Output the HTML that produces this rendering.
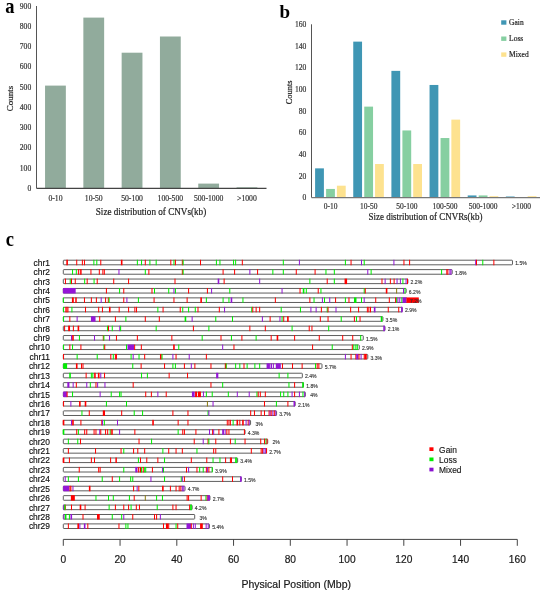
<!DOCTYPE html>
<html><head><meta charset="utf-8"><title>CNV figure</title>
<style>html,body{margin:0;padding:0;background:#fff;} svg{display:block;will-change:transform;filter:blur(0.3px);}</style></head>
<body><svg width="550" height="592" viewBox="0 0 550 592">
<rect width="550" height="592" fill="#fff"/>
<g id="pa">
<rect x="45.05" y="85.60" width="20.8" height="102.70" fill="#91ab9c"/>
<rect x="83.35" y="17.60" width="20.8" height="170.70" fill="#91ab9c"/>
<rect x="121.65" y="52.70" width="20.8" height="135.60" fill="#91ab9c"/>
<rect x="159.95" y="36.50" width="20.8" height="151.80" fill="#91ab9c"/>
<rect x="198.25" y="183.60" width="20.8" height="4.70" fill="#91ab9c"/>
<rect x="236.55" y="187.30" width="20.8" height="1.00" fill="#91ab9c"/>
<line x1="36.5" y1="6" x2="36.5" y2="188.3" stroke="#555" stroke-width="1"/>
<line x1="36.5" y1="188.3" x2="266.5" y2="188.3" stroke="#444" stroke-width="1.2"/>
<text transform="translate(31.20,191.00) scale(1,1.1)" font-family="'Liberation Serif', serif" font-size="7.6" text-anchor="end" fill="#333" font-weight="normal" stroke="#333" stroke-width="0.18">0</text>
<text transform="translate(31.20,170.74) scale(1,1.1)" font-family="'Liberation Serif', serif" font-size="7.6" text-anchor="end" fill="#333" font-weight="normal" stroke="#333" stroke-width="0.18">100</text>
<text transform="translate(31.20,150.48) scale(1,1.1)" font-family="'Liberation Serif', serif" font-size="7.6" text-anchor="end" fill="#333" font-weight="normal" stroke="#333" stroke-width="0.18">200</text>
<text transform="translate(31.20,130.22) scale(1,1.1)" font-family="'Liberation Serif', serif" font-size="7.6" text-anchor="end" fill="#333" font-weight="normal" stroke="#333" stroke-width="0.18">300</text>
<text transform="translate(31.20,109.96) scale(1,1.1)" font-family="'Liberation Serif', serif" font-size="7.6" text-anchor="end" fill="#333" font-weight="normal" stroke="#333" stroke-width="0.18">400</text>
<text transform="translate(31.20,89.70) scale(1,1.1)" font-family="'Liberation Serif', serif" font-size="7.6" text-anchor="end" fill="#333" font-weight="normal" stroke="#333" stroke-width="0.18">500</text>
<text transform="translate(31.20,69.44) scale(1,1.1)" font-family="'Liberation Serif', serif" font-size="7.6" text-anchor="end" fill="#333" font-weight="normal" stroke="#333" stroke-width="0.18">600</text>
<text transform="translate(31.20,49.18) scale(1,1.1)" font-family="'Liberation Serif', serif" font-size="7.6" text-anchor="end" fill="#333" font-weight="normal" stroke="#333" stroke-width="0.18">700</text>
<text transform="translate(31.20,28.92) scale(1,1.1)" font-family="'Liberation Serif', serif" font-size="7.6" text-anchor="end" fill="#333" font-weight="normal" stroke="#333" stroke-width="0.18">800</text>
<text transform="translate(31.20,8.66) scale(1,1.1)" font-family="'Liberation Serif', serif" font-size="7.6" text-anchor="end" fill="#333" font-weight="normal" stroke="#333" stroke-width="0.18">900</text>
<text transform="translate(55.45,201.00) scale(1,1.1)" font-family="'Liberation Serif', serif" font-size="7.7" text-anchor="middle" fill="#333" font-weight="normal" stroke="#333" stroke-width="0.18">0-10</text>
<text transform="translate(93.75,201.00) scale(1,1.1)" font-family="'Liberation Serif', serif" font-size="7.7" text-anchor="middle" fill="#333" font-weight="normal" stroke="#333" stroke-width="0.18">10-50</text>
<text transform="translate(132.05,201.00) scale(1,1.1)" font-family="'Liberation Serif', serif" font-size="7.7" text-anchor="middle" fill="#333" font-weight="normal" stroke="#333" stroke-width="0.18">50-100</text>
<text transform="translate(170.35,201.00) scale(1,1.1)" font-family="'Liberation Serif', serif" font-size="7.7" text-anchor="middle" fill="#333" font-weight="normal" stroke="#333" stroke-width="0.18">100-500</text>
<text transform="translate(208.65,201.00) scale(1,1.1)" font-family="'Liberation Serif', serif" font-size="7.7" text-anchor="middle" fill="#333" font-weight="normal" stroke="#333" stroke-width="0.18">500-1000</text>
<text transform="translate(246.95,201.00) scale(1,1.1)" font-family="'Liberation Serif', serif" font-size="7.7" text-anchor="middle" fill="#333" font-weight="normal" stroke="#333" stroke-width="0.18">&gt;1000</text>
<text transform="translate(151.00,215.00) scale(1,1.1)" font-family="'Liberation Serif', serif" font-size="9.15" text-anchor="middle" fill="#222" font-weight="normal" stroke="#222" stroke-width="0.18">Size distribution of CNVs(kb)</text>
<text transform="translate(13.00,98.60) rotate(-90)" font-family="'Liberation Serif', serif" font-size="9.0" text-anchor="middle" fill="#222" font-weight="normal" stroke="#222" stroke-width="0.18">Counts</text>
<text transform="translate(5.20,13.10) scale(1,1.1)" font-family="'Liberation Serif', serif" font-size="18.5" text-anchor="start" fill="#000" font-weight="bold" >a</text>
</g>
<g id="pb">
<rect x="315.10" y="168.36" width="8.8" height="29.24" fill="#3f96b4"/>
<rect x="326.10" y="188.94" width="8.8" height="8.66" fill="#86cfa1"/>
<rect x="336.90" y="185.69" width="8.8" height="11.91" fill="#fde28f"/>
<rect x="353.25" y="41.63" width="8.8" height="155.97" fill="#3f96b4"/>
<rect x="364.25" y="106.62" width="8.8" height="90.98" fill="#86cfa1"/>
<rect x="375.05" y="164.02" width="8.8" height="33.58" fill="#fde28f"/>
<rect x="391.40" y="70.87" width="8.8" height="126.73" fill="#3f96b4"/>
<rect x="402.40" y="130.45" width="8.8" height="67.15" fill="#86cfa1"/>
<rect x="413.20" y="164.02" width="8.8" height="33.58" fill="#fde28f"/>
<rect x="429.55" y="84.96" width="8.8" height="112.64" fill="#3f96b4"/>
<rect x="440.55" y="138.03" width="8.8" height="59.57" fill="#86cfa1"/>
<rect x="451.35" y="119.62" width="8.8" height="77.98" fill="#fde28f"/>
<rect x="467.70" y="195.43" width="8.8" height="2.17" fill="#3f96b4"/>
<rect x="478.70" y="195.43" width="8.8" height="2.17" fill="#86cfa1"/>
<rect x="489.50" y="196.19" width="8.8" height="1.41" fill="#fde28f"/>
<rect x="505.85" y="196.52" width="8.8" height="1.08" fill="#3f96b4"/>
<rect x="527.65" y="196.19" width="8.8" height="1.41" fill="#fde28f"/>
<line x1="311.5" y1="24.3" x2="311.5" y2="197.6" stroke="#555" stroke-width="1"/>
<line x1="311.5" y1="197.6" x2="540" y2="197.6" stroke="#777" stroke-width="1.2"/>
<text transform="translate(306.40,200.30) scale(1,1.1)" font-family="'Liberation Serif', serif" font-size="7.6" text-anchor="end" fill="#333" font-weight="normal" stroke="#333" stroke-width="0.18">0</text>
<text transform="translate(306.40,178.64) scale(1,1.1)" font-family="'Liberation Serif', serif" font-size="7.6" text-anchor="end" fill="#333" font-weight="normal" stroke="#333" stroke-width="0.18">20</text>
<text transform="translate(306.40,156.97) scale(1,1.1)" font-family="'Liberation Serif', serif" font-size="7.6" text-anchor="end" fill="#333" font-weight="normal" stroke="#333" stroke-width="0.18">40</text>
<text transform="translate(306.40,135.31) scale(1,1.1)" font-family="'Liberation Serif', serif" font-size="7.6" text-anchor="end" fill="#333" font-weight="normal" stroke="#333" stroke-width="0.18">60</text>
<text transform="translate(306.40,113.65) scale(1,1.1)" font-family="'Liberation Serif', serif" font-size="7.6" text-anchor="end" fill="#333" font-weight="normal" stroke="#333" stroke-width="0.18">80</text>
<text transform="translate(306.40,91.99) scale(1,1.1)" font-family="'Liberation Serif', serif" font-size="7.6" text-anchor="end" fill="#333" font-weight="normal" stroke="#333" stroke-width="0.18">100</text>
<text transform="translate(306.40,70.33) scale(1,1.1)" font-family="'Liberation Serif', serif" font-size="7.6" text-anchor="end" fill="#333" font-weight="normal" stroke="#333" stroke-width="0.18">120</text>
<text transform="translate(306.40,48.66) scale(1,1.1)" font-family="'Liberation Serif', serif" font-size="7.6" text-anchor="end" fill="#333" font-weight="normal" stroke="#333" stroke-width="0.18">140</text>
<text transform="translate(306.40,27.00) scale(1,1.1)" font-family="'Liberation Serif', serif" font-size="7.6" text-anchor="end" fill="#333" font-weight="normal" stroke="#333" stroke-width="0.18">160</text>
<text transform="translate(330.57,209.30) scale(1,1.1)" font-family="'Liberation Serif', serif" font-size="7.5" text-anchor="middle" fill="#333" font-weight="normal" stroke="#333" stroke-width="0.18">0-10</text>
<text transform="translate(368.73,209.30) scale(1,1.1)" font-family="'Liberation Serif', serif" font-size="7.5" text-anchor="middle" fill="#333" font-weight="normal" stroke="#333" stroke-width="0.18">10-50</text>
<text transform="translate(406.88,209.30) scale(1,1.1)" font-family="'Liberation Serif', serif" font-size="7.5" text-anchor="middle" fill="#333" font-weight="normal" stroke="#333" stroke-width="0.18">50-100</text>
<text transform="translate(445.02,209.30) scale(1,1.1)" font-family="'Liberation Serif', serif" font-size="7.5" text-anchor="middle" fill="#333" font-weight="normal" stroke="#333" stroke-width="0.18">100-500</text>
<text transform="translate(483.17,209.30) scale(1,1.1)" font-family="'Liberation Serif', serif" font-size="7.5" text-anchor="middle" fill="#333" font-weight="normal" stroke="#333" stroke-width="0.18">500-1000</text>
<text transform="translate(521.33,209.30) scale(1,1.1)" font-family="'Liberation Serif', serif" font-size="7.5" text-anchor="middle" fill="#333" font-weight="normal" stroke="#333" stroke-width="0.18">&gt;1000</text>
<text transform="translate(425.50,220.20) scale(1,1.1)" font-family="'Liberation Serif', serif" font-size="8.95" text-anchor="middle" fill="#222" font-weight="normal" stroke="#222" stroke-width="0.18">Size distribution of CNVRs(kb)</text>
<text transform="translate(291.60,92.40) rotate(-90)" font-family="'Liberation Serif', serif" font-size="8.45" text-anchor="middle" fill="#222" font-weight="normal" stroke="#222" stroke-width="0.18">Counts</text>
<text transform="translate(279.50,17.90)" font-family="'Liberation Serif', serif" font-size="19" text-anchor="start" fill="#000" font-weight="bold" >b</text>
<rect x="501.2" y="20.30" width="5.2" height="4.4" fill="#3f96b4"/>
<text transform="translate(509.10,25.10) scale(1,1.1)" font-family="'Liberation Serif', serif" font-size="7.5" text-anchor="start" fill="#222" font-weight="normal" stroke="#222" stroke-width="0.18">Gain</text>
<rect x="501.2" y="36.50" width="5.2" height="4.4" fill="#86cfa1"/>
<text transform="translate(509.10,41.30) scale(1,1.1)" font-family="'Liberation Serif', serif" font-size="7.5" text-anchor="start" fill="#222" font-weight="normal" stroke="#222" stroke-width="0.18">Loss</text>
<rect x="501.2" y="52.40" width="5.2" height="4.4" fill="#fde28f"/>
<text transform="translate(509.10,57.20) scale(1,1.1)" font-family="'Liberation Serif', serif" font-size="7.5" text-anchor="start" fill="#222" font-weight="normal" stroke="#222" stroke-width="0.18">Mixed</text>
</g>
<g id="pc">
<text transform="translate(5.80,245.50) scale(1,1.1)" font-family="'Liberation Serif', serif" font-size="18.5" text-anchor="start" fill="#000" font-weight="bold" >c</text>
<text transform="translate(50.00,265.70) scale(1,1.1)" font-family="'Liberation Sans', sans-serif" font-size="8.45" text-anchor="end" fill="#111" font-weight="normal" stroke="#111" stroke-width="0.15">chr1</text>
<rect x="63.30" y="260.20" width="449.18" height="4.6" rx="0.6" fill="#fff" stroke="#5e5e5e" stroke-width="1.0"/>
<rect x="66.31" y="259.75" width="1.60" height="5.5" fill="#ff0000"/>
<rect x="76.23" y="259.75" width="1.00" height="5.5" fill="#ff0000"/>
<rect x="81.87" y="259.75" width="1.00" height="5.5" fill="#ff0000"/>
<rect x="83.96" y="259.75" width="1.00" height="5.5" fill="#ff0000"/>
<rect x="93.37" y="259.75" width="1.00" height="5.5" fill="#00ee00"/>
<rect x="96.30" y="259.75" width="1.00" height="5.5" fill="#00ee00"/>
<rect x="100.27" y="259.75" width="1.00" height="5.5" fill="#ff0000"/>
<rect x="120.88" y="259.75" width="1.60" height="5.5" fill="#ff0000"/>
<rect x="136.86" y="259.75" width="1.00" height="5.5" fill="#00ee00"/>
<rect x="141.04" y="259.75" width="1.00" height="5.5" fill="#00ee00"/>
<rect x="144.80" y="259.75" width="1.00" height="5.5" fill="#ff0000"/>
<rect x="149.40" y="259.75" width="1.00" height="5.5" fill="#00ee00"/>
<rect x="155.67" y="259.75" width="1.00" height="5.5" fill="#00ee00"/>
<rect x="170.31" y="259.75" width="1.00" height="5.5" fill="#ff0000"/>
<rect x="173.45" y="259.75" width="1.00" height="5.5" fill="#00ee00"/>
<rect x="174.92" y="259.75" width="1.00" height="5.5" fill="#ff0000"/>
<rect x="181.82" y="259.75" width="1.00" height="5.5" fill="#ff0000"/>
<rect x="182.65" y="259.75" width="1.00" height="5.5" fill="#00ee00"/>
<rect x="200.01" y="259.75" width="1.00" height="5.5" fill="#ff0000"/>
<rect x="215.90" y="259.75" width="1.00" height="5.5" fill="#00ee00"/>
<rect x="219.45" y="259.75" width="1.00" height="5.5" fill="#00ee00"/>
<rect x="233.04" y="259.75" width="1.00" height="5.5" fill="#00ee00"/>
<rect x="235.13" y="259.75" width="1.00" height="5.5" fill="#00ee00"/>
<rect x="241.82" y="259.75" width="1.00" height="5.5" fill="#ff0000"/>
<rect x="282.80" y="259.75" width="1.00" height="5.5" fill="#00ee00"/>
<rect x="298.91" y="259.75" width="1.00" height="5.5" fill="#9416d6"/>
<rect x="344.90" y="259.75" width="1.00" height="5.5" fill="#00ee00"/>
<rect x="350.55" y="259.75" width="1.00" height="5.5" fill="#ff0000"/>
<rect x="361.00" y="259.75" width="1.00" height="5.5" fill="#9416d6"/>
<rect x="363.72" y="259.75" width="1.00" height="5.5" fill="#00ee00"/>
<rect x="393.41" y="259.75" width="1.00" height="5.5" fill="#9416d6"/>
<rect x="403.45" y="259.75" width="1.00" height="5.5" fill="#ff0000"/>
<rect x="409.10" y="259.75" width="1.00" height="5.5" fill="#ff0000"/>
<rect x="475.17" y="259.75" width="1.00" height="5.5" fill="#9416d6"/>
<rect x="476.00" y="259.75" width="1.00" height="5.5" fill="#ff0000"/>
<rect x="482.28" y="259.75" width="1.00" height="5.5" fill="#00ee00"/>
<rect x="493.36" y="259.75" width="1.00" height="5.5" fill="#ff0000"/>
<text transform="translate(520.98,265.40) scale(1,1.12)" font-family="'Liberation Sans', sans-serif" font-size="5.1" text-anchor="middle" fill="#333" font-weight="normal" stroke="#333" stroke-width="0.12">1.5%</text>
<text transform="translate(50.00,275.12) scale(1,1.1)" font-family="'Liberation Sans', sans-serif" font-size="8.45" text-anchor="end" fill="#111" font-weight="normal" stroke="#111" stroke-width="0.15">chr2</text>
<rect x="63.30" y="269.62" width="388.91" height="4.6" rx="0.6" fill="#fff" stroke="#5e5e5e" stroke-width="1.0"/>
<rect x="72.04" y="269.17" width="1.00" height="5.5" fill="#00ee00"/>
<rect x="75.81" y="269.17" width="1.00" height="5.5" fill="#00ee00"/>
<rect x="77.90" y="269.17" width="1.00" height="5.5" fill="#ff0000"/>
<rect x="79.78" y="269.17" width="1.00" height="5.5" fill="#ff0000"/>
<rect x="80.62" y="269.17" width="1.00" height="5.5" fill="#ff0000"/>
<rect x="90.44" y="269.17" width="1.00" height="5.5" fill="#ff0000"/>
<rect x="98.81" y="269.17" width="1.00" height="5.5" fill="#ff0000"/>
<rect x="102.36" y="269.17" width="1.00" height="5.5" fill="#ff0000"/>
<rect x="103.82" y="269.17" width="1.00" height="5.5" fill="#ff0000"/>
<rect x="118.46" y="269.17" width="1.00" height="5.5" fill="#9416d6"/>
<rect x="144.80" y="269.17" width="1.00" height="5.5" fill="#00ee00"/>
<rect x="148.36" y="269.17" width="1.00" height="5.5" fill="#ff0000"/>
<rect x="181.82" y="269.17" width="1.00" height="5.5" fill="#ff0000"/>
<rect x="182.65" y="269.17" width="1.00" height="5.5" fill="#00ee00"/>
<rect x="222.59" y="269.17" width="1.00" height="5.5" fill="#ff0000"/>
<rect x="234.09" y="269.17" width="1.00" height="5.5" fill="#ff0000"/>
<rect x="249.35" y="269.17" width="1.00" height="5.5" fill="#9416d6"/>
<rect x="257.08" y="269.17" width="1.00" height="5.5" fill="#ff0000"/>
<rect x="272.35" y="269.17" width="1.00" height="5.5" fill="#00ee00"/>
<rect x="282.80" y="269.17" width="1.00" height="5.5" fill="#00ee00"/>
<rect x="295.77" y="269.17" width="1.00" height="5.5" fill="#ff0000"/>
<rect x="314.59" y="269.17" width="1.00" height="5.5" fill="#ff0000"/>
<rect x="325.46" y="269.17" width="1.00" height="5.5" fill="#00ee00"/>
<rect x="333.82" y="269.17" width="1.00" height="5.5" fill="#00ee00"/>
<rect x="367.28" y="269.17" width="1.00" height="5.5" fill="#9416d6"/>
<rect x="370.62" y="269.17" width="1.00" height="5.5" fill="#00ee00"/>
<rect x="441.09" y="269.17" width="1.00" height="5.5" fill="#00ee00"/>
<rect x="446.31" y="269.17" width="1.00" height="5.5" fill="#ff0000"/>
<rect x="447.36" y="269.17" width="1.00" height="5.5" fill="#ff0000"/>
<rect x="449.45" y="269.17" width="1.00" height="5.5" fill="#9416d6"/>
<rect x="450.50" y="269.17" width="1.00" height="5.5" fill="#9416d6"/>
<text transform="translate(460.71,274.82) scale(1,1.12)" font-family="'Liberation Sans', sans-serif" font-size="5.1" text-anchor="middle" fill="#333" font-weight="normal" stroke="#333" stroke-width="0.12">1.8%</text>
<text transform="translate(50.00,284.54) scale(1,1.1)" font-family="'Liberation Sans', sans-serif" font-size="8.45" text-anchor="end" fill="#111" font-weight="normal" stroke="#111" stroke-width="0.15">chr3</text>
<rect x="63.30" y="279.04" width="344.56" height="4.6" rx="0.6" fill="#fff" stroke="#5e5e5e" stroke-width="1.0"/>
<rect x="64.94" y="278.59" width="1.00" height="5.5" fill="#ff0000"/>
<rect x="69.74" y="278.59" width="1.00" height="5.5" fill="#00ee00"/>
<rect x="71.00" y="278.59" width="1.00" height="5.5" fill="#ff0000"/>
<rect x="74.76" y="278.59" width="1.00" height="5.5" fill="#ff0000"/>
<rect x="84.17" y="278.59" width="1.00" height="5.5" fill="#00ee00"/>
<rect x="86.68" y="278.59" width="1.00" height="5.5" fill="#ff0000"/>
<rect x="93.58" y="278.59" width="1.00" height="5.5" fill="#00ee00"/>
<rect x="96.72" y="278.59" width="1.00" height="5.5" fill="#ff0000"/>
<rect x="113.23" y="278.59" width="1.00" height="5.5" fill="#ff0000"/>
<rect x="128.08" y="278.59" width="1.00" height="5.5" fill="#ff0000"/>
<rect x="174.50" y="278.59" width="1.00" height="5.5" fill="#ff0000"/>
<rect x="217.69" y="278.59" width="1.60" height="5.5" fill="#9416d6"/>
<rect x="223.63" y="278.59" width="1.00" height="5.5" fill="#ff0000"/>
<rect x="259.17" y="278.59" width="1.00" height="5.5" fill="#9416d6"/>
<rect x="309.36" y="278.59" width="1.00" height="5.5" fill="#00ee00"/>
<rect x="326.72" y="278.59" width="1.00" height="5.5" fill="#ff0000"/>
<rect x="333.82" y="278.59" width="1.00" height="5.5" fill="#00ee00"/>
<rect x="344.57" y="278.59" width="2.51" height="5.5" fill="#ff0000"/>
<rect x="381.49" y="278.59" width="1.00" height="5.5" fill="#ff0000"/>
<rect x="384.63" y="278.59" width="1.00" height="5.5" fill="#9416d6"/>
<rect x="389.86" y="278.59" width="1.00" height="5.5" fill="#ff0000"/>
<rect x="393.62" y="278.59" width="1.00" height="5.5" fill="#ff0000"/>
<rect x="396.55" y="278.59" width="1.00" height="5.5" fill="#9416d6"/>
<rect x="399.89" y="278.59" width="1.00" height="5.5" fill="#9416d6"/>
<rect x="402.40" y="278.59" width="1.00" height="5.5" fill="#00ee00"/>
<rect x="405.55" y="278.59" width="1.00" height="5.5" fill="#9416d6"/>
<rect x="407.01" y="278.59" width="1.00" height="5.5" fill="#ff0000"/>
<text transform="translate(416.36,284.24) scale(1,1.12)" font-family="'Liberation Sans', sans-serif" font-size="5.1" text-anchor="middle" fill="#333" font-weight="normal" stroke="#333" stroke-width="0.12">2.2%</text>
<text transform="translate(50.00,293.95) scale(1,1.1)" font-family="'Liberation Sans', sans-serif" font-size="8.45" text-anchor="end" fill="#111" font-weight="normal" stroke="#111" stroke-width="0.15">chr4</text>
<rect x="63.30" y="288.45" width="342.86" height="4.6" rx="0.6" fill="#fff" stroke="#5e5e5e" stroke-width="1.0"/>
<rect x="62.93" y="288.00" width="12.75" height="5.5" fill="#9416d6"/>
<rect x="105.91" y="288.00" width="1.00" height="5.5" fill="#ff0000"/>
<rect x="119.09" y="288.00" width="1.00" height="5.5" fill="#00ee00"/>
<rect x="123.27" y="288.00" width="1.00" height="5.5" fill="#ff0000"/>
<rect x="151.49" y="288.00" width="1.00" height="5.5" fill="#ff0000"/>
<rect x="154.00" y="288.00" width="1.00" height="5.5" fill="#00ee00"/>
<rect x="168.22" y="288.00" width="1.00" height="5.5" fill="#00ee00"/>
<rect x="173.45" y="288.00" width="1.00" height="5.5" fill="#9416d6"/>
<rect x="174.92" y="288.00" width="1.00" height="5.5" fill="#00ee00"/>
<rect x="188.09" y="288.00" width="1.00" height="5.5" fill="#ff0000"/>
<rect x="206.91" y="288.00" width="1.00" height="5.5" fill="#ff0000"/>
<rect x="211.09" y="288.00" width="1.00" height="5.5" fill="#9416d6"/>
<rect x="229.28" y="288.00" width="1.00" height="5.5" fill="#00ee00"/>
<rect x="281.55" y="288.00" width="1.00" height="5.5" fill="#9416d6"/>
<rect x="299.54" y="288.00" width="1.00" height="5.5" fill="#ff0000"/>
<rect x="302.79" y="288.00" width="1.60" height="5.5" fill="#00ee00"/>
<rect x="305.81" y="288.00" width="1.00" height="5.5" fill="#00ee00"/>
<rect x="317.72" y="288.00" width="1.00" height="5.5" fill="#ff0000"/>
<rect x="320.44" y="288.00" width="1.00" height="5.5" fill="#00ee00"/>
<rect x="363.72" y="288.00" width="1.00" height="5.5" fill="#00ee00"/>
<rect x="364.77" y="288.00" width="1.00" height="5.5" fill="#ff0000"/>
<rect x="385.79" y="288.00" width="1.60" height="5.5" fill="#ff0000"/>
<rect x="396.13" y="288.00" width="1.00" height="5.5" fill="#8a7a10"/>
<rect x="403.03" y="288.00" width="1.00" height="5.5" fill="#9416d6"/>
<rect x="404.49" y="288.00" width="1.00" height="5.5" fill="#00ee00"/>
<text transform="translate(414.66,293.65) scale(1,1.12)" font-family="'Liberation Sans', sans-serif" font-size="5.1" text-anchor="middle" fill="#333" font-weight="normal" stroke="#333" stroke-width="0.12">6.2%</text>
<text transform="translate(50.00,303.37) scale(1,1.1)" font-family="'Liberation Sans', sans-serif" font-size="8.45" text-anchor="end" fill="#111" font-weight="normal" stroke="#111" stroke-width="0.15">chr5</text>
<rect x="63.30" y="297.87" width="343.88" height="4.6" rx="0.6" fill="#fff" stroke="#5e5e5e" stroke-width="1.0"/>
<rect x="62.85" y="297.42" width="1.00" height="5.5" fill="#00ee00"/>
<rect x="71.92" y="297.42" width="1.88" height="5.5" fill="#ff0000"/>
<rect x="75.26" y="297.42" width="1.46" height="5.5" fill="#ff0000"/>
<rect x="83.96" y="297.42" width="1.00" height="5.5" fill="#ff0000"/>
<rect x="90.86" y="297.42" width="1.00" height="5.5" fill="#ff0000"/>
<rect x="95.88" y="297.42" width="1.00" height="5.5" fill="#ff0000"/>
<rect x="100.69" y="297.42" width="1.00" height="5.5" fill="#9416d6"/>
<rect x="105.08" y="297.42" width="1.00" height="5.5" fill="#ff0000"/>
<rect x="107.80" y="297.42" width="1.00" height="5.5" fill="#ff0000"/>
<rect x="108.63" y="297.42" width="1.00" height="5.5" fill="#00ee00"/>
<rect x="123.27" y="297.42" width="1.00" height="5.5" fill="#ff0000"/>
<rect x="126.40" y="297.42" width="1.00" height="5.5" fill="#9416d6"/>
<rect x="137.90" y="297.42" width="1.00" height="5.5" fill="#00ee00"/>
<rect x="153.58" y="297.42" width="1.00" height="5.5" fill="#ff0000"/>
<rect x="173.45" y="297.42" width="1.00" height="5.5" fill="#ff0000"/>
<rect x="186.63" y="297.42" width="1.00" height="5.5" fill="#ff0000"/>
<rect x="200.33" y="297.42" width="1.60" height="5.5" fill="#ff0000"/>
<rect x="205.86" y="297.42" width="1.00" height="5.5" fill="#00ee00"/>
<rect x="222.59" y="297.42" width="1.00" height="5.5" fill="#00ee00"/>
<rect x="228.44" y="297.42" width="1.00" height="5.5" fill="#00ee00"/>
<rect x="230.65" y="297.42" width="1.60" height="5.5" fill="#9416d6"/>
<rect x="242.45" y="297.42" width="1.00" height="5.5" fill="#00ee00"/>
<rect x="274.86" y="297.42" width="1.00" height="5.5" fill="#ff0000"/>
<rect x="309.36" y="297.42" width="1.00" height="5.5" fill="#ff0000"/>
<rect x="313.54" y="297.42" width="1.00" height="5.5" fill="#00ee00"/>
<rect x="321.91" y="297.42" width="1.00" height="5.5" fill="#9416d6"/>
<rect x="324.00" y="297.42" width="1.00" height="5.5" fill="#00ee00"/>
<rect x="329.22" y="297.42" width="1.00" height="5.5" fill="#9416d6"/>
<rect x="335.08" y="297.42" width="1.00" height="5.5" fill="#ff0000"/>
<rect x="344.90" y="297.42" width="1.00" height="5.5" fill="#00ee00"/>
<rect x="348.46" y="297.42" width="1.00" height="5.5" fill="#ff0000"/>
<rect x="353.98" y="297.42" width="2.51" height="5.5" fill="#00ee00"/>
<rect x="361.00" y="297.42" width="1.00" height="5.5" fill="#00ee00"/>
<rect x="363.72" y="297.42" width="1.00" height="5.5" fill="#9416d6"/>
<rect x="375.22" y="297.42" width="1.00" height="5.5" fill="#ff0000"/>
<rect x="388.81" y="297.42" width="1.00" height="5.5" fill="#ff0000"/>
<rect x="395.08" y="297.42" width="1.00" height="5.5" fill="#ff0000"/>
<rect x="396.13" y="297.42" width="1.00" height="5.5" fill="#00ee00"/>
<rect x="397.38" y="297.42" width="1.00" height="5.5" fill="#9416d6"/>
<rect x="399.26" y="297.42" width="1.00" height="5.5" fill="#9416d6"/>
<rect x="401.35" y="297.42" width="1.00" height="5.5" fill="#00ee00"/>
<rect x="402.48" y="297.42" width="3.97" height="5.5" fill="#9416d6"/>
<rect x="406.45" y="297.42" width="12.34" height="5.5" fill="#ff0000"/>
<text transform="translate(415.68,303.07) scale(1,1.12)" font-family="'Liberation Sans', sans-serif" font-size="5.1" text-anchor="middle" fill="#333" font-weight="normal" stroke="#333" stroke-width="0.12">7.2%</text>
<text transform="translate(50.00,312.79) scale(1,1.1)" font-family="'Liberation Sans', sans-serif" font-size="8.45" text-anchor="end" fill="#111" font-weight="normal" stroke="#111" stroke-width="0.15">chr6</text>
<rect x="63.30" y="307.29" width="338.97" height="4.6" rx="0.6" fill="#fff" stroke="#5e5e5e" stroke-width="1.0"/>
<rect x="63.05" y="306.84" width="1.00" height="5.5" fill="#00ee00"/>
<rect x="65.35" y="306.84" width="1.00" height="5.5" fill="#ff0000"/>
<rect x="66.40" y="306.84" width="1.00" height="5.5" fill="#ff0000"/>
<rect x="67.44" y="306.84" width="1.00" height="5.5" fill="#ff0000"/>
<rect x="71.42" y="306.84" width="1.00" height="5.5" fill="#00ee00"/>
<rect x="85.01" y="306.84" width="1.00" height="5.5" fill="#ff0000"/>
<rect x="98.18" y="306.84" width="1.00" height="5.5" fill="#ff0000"/>
<rect x="101.94" y="306.84" width="1.00" height="5.5" fill="#ff0000"/>
<rect x="108.96" y="306.84" width="1.60" height="5.5" fill="#ff0000"/>
<rect x="118.67" y="306.84" width="1.00" height="5.5" fill="#ff0000"/>
<rect x="128.08" y="306.84" width="1.00" height="5.5" fill="#ff0000"/>
<rect x="134.35" y="306.84" width="1.00" height="5.5" fill="#ff0000"/>
<rect x="136.02" y="306.84" width="1.00" height="5.5" fill="#ff0000"/>
<rect x="157.35" y="306.84" width="1.00" height="5.5" fill="#00ee00"/>
<rect x="162.57" y="306.84" width="1.00" height="5.5" fill="#ff0000"/>
<rect x="179.73" y="306.84" width="1.00" height="5.5" fill="#ff0000"/>
<rect x="182.24" y="306.84" width="1.00" height="5.5" fill="#00ee00"/>
<rect x="188.09" y="306.84" width="1.00" height="5.5" fill="#00ee00"/>
<rect x="194.78" y="306.84" width="1.00" height="5.5" fill="#00ee00"/>
<rect x="197.50" y="306.84" width="1.00" height="5.5" fill="#ff0000"/>
<rect x="218.82" y="306.84" width="1.00" height="5.5" fill="#ff0000"/>
<rect x="224.05" y="306.84" width="1.00" height="5.5" fill="#9416d6"/>
<rect x="251.23" y="306.84" width="1.00" height="5.5" fill="#00ee00"/>
<rect x="252.28" y="306.84" width="1.00" height="5.5" fill="#ff0000"/>
<rect x="255.62" y="306.84" width="1.00" height="5.5" fill="#ff0000"/>
<rect x="259.17" y="306.84" width="1.00" height="5.5" fill="#ff0000"/>
<rect x="280.71" y="306.84" width="1.00" height="5.5" fill="#00ee00"/>
<rect x="299.95" y="306.84" width="1.00" height="5.5" fill="#00ee00"/>
<rect x="310.41" y="306.84" width="1.00" height="5.5" fill="#9416d6"/>
<rect x="315.63" y="306.84" width="1.00" height="5.5" fill="#9416d6"/>
<rect x="320.86" y="306.84" width="1.00" height="5.5" fill="#ff0000"/>
<rect x="326.72" y="306.84" width="1.00" height="5.5" fill="#00ee00"/>
<rect x="327.55" y="306.84" width="1.00" height="5.5" fill="#ff0000"/>
<rect x="335.50" y="306.84" width="1.00" height="5.5" fill="#9416d6"/>
<rect x="350.13" y="306.84" width="1.00" height="5.5" fill="#ff0000"/>
<rect x="358.08" y="306.84" width="1.00" height="5.5" fill="#ff0000"/>
<rect x="366.86" y="306.84" width="1.00" height="5.5" fill="#ff0000"/>
<rect x="368.32" y="306.84" width="1.00" height="5.5" fill="#ff0000"/>
<rect x="369.99" y="306.84" width="1.00" height="5.5" fill="#ff0000"/>
<rect x="373.87" y="306.84" width="1.60" height="5.5" fill="#9416d6"/>
<rect x="387.76" y="306.84" width="1.00" height="5.5" fill="#ff0000"/>
<rect x="398.22" y="306.84" width="1.00" height="5.5" fill="#ff0000"/>
<rect x="401.05" y="306.84" width="1.60" height="5.5" fill="#9416d6"/>
<text transform="translate(410.77,312.49) scale(1,1.12)" font-family="'Liberation Sans', sans-serif" font-size="5.1" text-anchor="middle" fill="#333" font-weight="normal" stroke="#333" stroke-width="0.12">2.9%</text>
<text transform="translate(50.00,322.21) scale(1,1.1)" font-family="'Liberation Sans', sans-serif" font-size="8.45" text-anchor="end" fill="#111" font-weight="normal" stroke="#111" stroke-width="0.15">chr7</text>
<rect x="63.30" y="316.71" width="319.62" height="4.6" rx="0.6" fill="#fff" stroke="#5e5e5e" stroke-width="1.0"/>
<rect x="63.05" y="316.26" width="1.00" height="5.5" fill="#00ee00"/>
<rect x="69.33" y="316.26" width="1.00" height="5.5" fill="#ff0000"/>
<rect x="76.64" y="316.26" width="1.00" height="5.5" fill="#9416d6"/>
<rect x="90.94" y="316.26" width="4.60" height="5.5" fill="#9416d6"/>
<rect x="99.22" y="316.26" width="1.00" height="5.5" fill="#ff0000"/>
<rect x="114.90" y="316.26" width="1.00" height="5.5" fill="#ff0000"/>
<rect x="125.36" y="316.26" width="1.00" height="5.5" fill="#00ee00"/>
<rect x="144.80" y="316.26" width="1.00" height="5.5" fill="#ff0000"/>
<rect x="158.81" y="316.26" width="1.00" height="5.5" fill="#ff0000"/>
<rect x="184.65" y="316.26" width="1.60" height="5.5" fill="#00ee00"/>
<rect x="191.64" y="316.26" width="1.00" height="5.5" fill="#9416d6"/>
<rect x="215.27" y="316.26" width="1.00" height="5.5" fill="#00ee00"/>
<rect x="232.00" y="316.26" width="1.00" height="5.5" fill="#00ee00"/>
<rect x="261.89" y="316.26" width="1.00" height="5.5" fill="#9416d6"/>
<rect x="269.63" y="316.26" width="1.00" height="5.5" fill="#ff0000"/>
<rect x="279.46" y="316.26" width="1.00" height="5.5" fill="#9416d6"/>
<rect x="281.55" y="316.26" width="1.00" height="5.5" fill="#00ee00"/>
<rect x="283.22" y="316.26" width="1.00" height="5.5" fill="#ff0000"/>
<rect x="287.10" y="316.26" width="1.60" height="5.5" fill="#ff0000"/>
<rect x="319.82" y="316.26" width="1.00" height="5.5" fill="#ff0000"/>
<rect x="327.55" y="316.26" width="1.00" height="5.5" fill="#ff0000"/>
<rect x="340.72" y="316.26" width="1.00" height="5.5" fill="#00ee00"/>
<rect x="353.89" y="316.26" width="1.00" height="5.5" fill="#ff0000"/>
<rect x="355.99" y="316.26" width="1.00" height="5.5" fill="#00ee00"/>
<rect x="359.54" y="316.26" width="1.00" height="5.5" fill="#ff0000"/>
<rect x="380.77" y="316.26" width="1.60" height="5.5" fill="#00ee00"/>
<text transform="translate(391.42,321.91) scale(1,1.12)" font-family="'Liberation Sans', sans-serif" font-size="5.1" text-anchor="middle" fill="#333" font-weight="normal" stroke="#333" stroke-width="0.12">3.5%</text>
<text transform="translate(50.00,331.63) scale(1,1.1)" font-family="'Liberation Sans', sans-serif" font-size="8.45" text-anchor="end" fill="#111" font-weight="normal" stroke="#111" stroke-width="0.15">chr8</text>
<rect x="63.30" y="326.13" width="321.72" height="4.6" rx="0.6" fill="#fff" stroke="#5e5e5e" stroke-width="1.0"/>
<rect x="64.10" y="325.68" width="1.00" height="5.5" fill="#ff0000"/>
<rect x="68.15" y="325.68" width="1.88" height="5.5" fill="#ff0000"/>
<rect x="72.88" y="325.68" width="1.00" height="5.5" fill="#ff0000"/>
<rect x="77.60" y="325.68" width="1.60" height="5.5" fill="#ff0000"/>
<rect x="106.96" y="325.68" width="1.00" height="5.5" fill="#00ee00"/>
<rect x="108.01" y="325.68" width="1.00" height="5.5" fill="#ff0000"/>
<rect x="111.77" y="325.68" width="1.00" height="5.5" fill="#00ee00"/>
<rect x="119.30" y="325.68" width="1.00" height="5.5" fill="#9416d6"/>
<rect x="120.13" y="325.68" width="1.00" height="5.5" fill="#00ee00"/>
<rect x="155.67" y="325.68" width="1.00" height="5.5" fill="#00ee00"/>
<rect x="192.90" y="325.68" width="1.00" height="5.5" fill="#ff0000"/>
<rect x="208.37" y="325.68" width="1.00" height="5.5" fill="#00ee00"/>
<rect x="249.35" y="325.68" width="1.00" height="5.5" fill="#ff0000"/>
<rect x="264.82" y="325.68" width="1.00" height="5.5" fill="#ff0000"/>
<rect x="291.59" y="325.68" width="1.00" height="5.5" fill="#00ee00"/>
<rect x="308.73" y="325.68" width="1.00" height="5.5" fill="#ff0000"/>
<rect x="311.45" y="325.68" width="1.00" height="5.5" fill="#ff0000"/>
<rect x="328.18" y="325.68" width="1.00" height="5.5" fill="#00ee00"/>
<rect x="383.28" y="325.68" width="1.60" height="5.5" fill="#9416d6"/>
<text transform="translate(393.52,331.33) scale(1,1.12)" font-family="'Liberation Sans', sans-serif" font-size="5.1" text-anchor="middle" fill="#333" font-weight="normal" stroke="#333" stroke-width="0.12">2.1%</text>
<text transform="translate(50.00,341.04) scale(1,1.1)" font-family="'Liberation Sans', sans-serif" font-size="8.45" text-anchor="end" fill="#111" font-weight="normal" stroke="#111" stroke-width="0.15">chr9</text>
<rect x="63.30" y="335.54" width="299.95" height="4.6" rx="0.6" fill="#fff" stroke="#5e5e5e" stroke-width="1.0"/>
<rect x="71.00" y="335.09" width="1.00" height="5.5" fill="#9416d6"/>
<rect x="72.16" y="335.09" width="1.60" height="5.5" fill="#ff0000"/>
<rect x="78.94" y="335.09" width="1.00" height="5.5" fill="#00ee00"/>
<rect x="94.00" y="335.09" width="1.00" height="5.5" fill="#9416d6"/>
<rect x="102.78" y="335.09" width="1.00" height="5.5" fill="#ff0000"/>
<rect x="103.41" y="335.09" width="1.00" height="5.5" fill="#00ee00"/>
<rect x="109.05" y="335.09" width="1.00" height="5.5" fill="#9416d6"/>
<rect x="115.95" y="335.09" width="1.00" height="5.5" fill="#ff0000"/>
<rect x="136.86" y="335.09" width="1.00" height="5.5" fill="#ff0000"/>
<rect x="171.35" y="335.09" width="1.00" height="5.5" fill="#ff0000"/>
<rect x="201.68" y="335.09" width="1.00" height="5.5" fill="#00ee00"/>
<rect x="220.50" y="335.09" width="1.00" height="5.5" fill="#ff0000"/>
<rect x="230.95" y="335.09" width="1.00" height="5.5" fill="#00ee00"/>
<rect x="241.40" y="335.09" width="1.00" height="5.5" fill="#ff0000"/>
<rect x="255.62" y="335.09" width="1.00" height="5.5" fill="#00ee00"/>
<rect x="270.67" y="335.09" width="1.00" height="5.5" fill="#ff0000"/>
<rect x="276.65" y="335.09" width="1.60" height="5.5" fill="#ff0000"/>
<rect x="294.10" y="335.09" width="1.00" height="5.5" fill="#ff0000"/>
<rect x="318.77" y="335.09" width="1.00" height="5.5" fill="#ff0000"/>
<rect x="342.19" y="335.09" width="1.00" height="5.5" fill="#ff0000"/>
<rect x="352.22" y="335.09" width="1.00" height="5.5" fill="#ff0000"/>
<rect x="360.17" y="335.09" width="1.00" height="5.5" fill="#00ee00"/>
<text transform="translate(371.75,340.74) scale(1,1.12)" font-family="'Liberation Sans', sans-serif" font-size="5.1" text-anchor="middle" fill="#333" font-weight="normal" stroke="#333" stroke-width="0.12">1.5%</text>
<text transform="translate(50.00,350.46) scale(1,1.1)" font-family="'Liberation Sans', sans-serif" font-size="8.45" text-anchor="end" fill="#111" font-weight="normal" stroke="#111" stroke-width="0.15">chr10</text>
<rect x="63.30" y="344.96" width="295.98" height="4.6" rx="0.6" fill="#fff" stroke="#5e5e5e" stroke-width="1.0"/>
<rect x="63.05" y="344.51" width="1.00" height="5.5" fill="#00ee00"/>
<rect x="69.33" y="344.51" width="1.00" height="5.5" fill="#ff0000"/>
<rect x="72.04" y="344.51" width="1.00" height="5.5" fill="#00ee00"/>
<rect x="80.41" y="344.51" width="1.00" height="5.5" fill="#ff0000"/>
<rect x="103.41" y="344.51" width="1.00" height="5.5" fill="#00ee00"/>
<rect x="104.24" y="344.51" width="1.00" height="5.5" fill="#ff0000"/>
<rect x="125.99" y="344.51" width="1.00" height="5.5" fill="#00ee00"/>
<rect x="127.53" y="344.51" width="6.48" height="5.5" fill="#9416d6"/>
<rect x="134.14" y="344.51" width="1.00" height="5.5" fill="#ff0000"/>
<rect x="140.83" y="344.51" width="1.00" height="5.5" fill="#ff0000"/>
<rect x="173.15" y="344.51" width="1.60" height="5.5" fill="#ff0000"/>
<rect x="178.26" y="344.51" width="1.00" height="5.5" fill="#00ee00"/>
<rect x="222.17" y="344.51" width="1.00" height="5.5" fill="#9416d6"/>
<rect x="233.46" y="344.51" width="1.00" height="5.5" fill="#ff0000"/>
<rect x="312.08" y="344.51" width="1.00" height="5.5" fill="#ff0000"/>
<rect x="331.73" y="344.51" width="1.00" height="5.5" fill="#00ee00"/>
<rect x="351.80" y="344.51" width="1.00" height="5.5" fill="#ff0000"/>
<rect x="353.27" y="344.51" width="1.00" height="5.5" fill="#00ee00"/>
<rect x="355.36" y="344.51" width="1.00" height="5.5" fill="#00ee00"/>
<rect x="356.82" y="344.51" width="1.00" height="5.5" fill="#00ee00"/>
<text transform="translate(367.78,350.16) scale(1,1.12)" font-family="'Liberation Sans', sans-serif" font-size="5.1" text-anchor="middle" fill="#333" font-weight="normal" stroke="#333" stroke-width="0.12">2.9%</text>
<text transform="translate(50.00,359.88) scale(1,1.1)" font-family="'Liberation Sans', sans-serif" font-size="8.45" text-anchor="end" fill="#111" font-weight="normal" stroke="#111" stroke-width="0.15">chr11</text>
<rect x="63.30" y="354.38" width="304.49" height="4.6" rx="0.6" fill="#fff" stroke="#5e5e5e" stroke-width="1.0"/>
<rect x="63.05" y="353.93" width="1.00" height="5.5" fill="#ff0000"/>
<rect x="76.64" y="353.93" width="1.00" height="5.5" fill="#00ee00"/>
<rect x="96.72" y="353.93" width="1.00" height="5.5" fill="#00ee00"/>
<rect x="110.30" y="353.93" width="1.00" height="5.5" fill="#ff0000"/>
<rect x="112.81" y="353.93" width="1.00" height="5.5" fill="#00ee00"/>
<rect x="114.90" y="353.93" width="1.00" height="5.5" fill="#ff0000"/>
<rect x="115.95" y="353.93" width="1.00" height="5.5" fill="#ff0000"/>
<rect x="130.59" y="353.93" width="1.00" height="5.5" fill="#00ee00"/>
<rect x="132.68" y="353.93" width="1.00" height="5.5" fill="#9416d6"/>
<rect x="138.53" y="353.93" width="1.00" height="5.5" fill="#00ee00"/>
<rect x="144.17" y="353.93" width="1.00" height="5.5" fill="#ff0000"/>
<rect x="159.97" y="353.93" width="1.60" height="5.5" fill="#ff0000"/>
<rect x="161.53" y="353.93" width="1.00" height="5.5" fill="#00ee00"/>
<rect x="172.40" y="353.93" width="1.00" height="5.5" fill="#9416d6"/>
<rect x="175.55" y="353.93" width="1.00" height="5.5" fill="#ff0000"/>
<rect x="188.72" y="353.93" width="1.00" height="5.5" fill="#9416d6"/>
<rect x="205.86" y="353.93" width="1.00" height="5.5" fill="#ff0000"/>
<rect x="344.90" y="353.93" width="1.00" height="5.5" fill="#9416d6"/>
<rect x="350.55" y="353.93" width="1.00" height="5.5" fill="#ff0000"/>
<rect x="355.36" y="353.93" width="1.00" height="5.5" fill="#ff0000"/>
<rect x="356.22" y="353.93" width="2.20" height="5.5" fill="#9416d6"/>
<rect x="358.49" y="353.93" width="1.00" height="5.5" fill="#ff0000"/>
<rect x="360.59" y="353.93" width="1.00" height="5.5" fill="#9416d6"/>
<rect x="363.72" y="353.93" width="1.00" height="5.5" fill="#ff0000"/>
<rect x="364.58" y="353.93" width="2.20" height="5.5" fill="#ff0000"/>
<text transform="translate(376.29,359.58) scale(1,1.12)" font-family="'Liberation Sans', sans-serif" font-size="5.1" text-anchor="middle" fill="#333" font-weight="normal" stroke="#333" stroke-width="0.12">3.3%</text>
<text transform="translate(50.00,369.30) scale(1,1.1)" font-family="'Liberation Sans', sans-serif" font-size="8.45" text-anchor="end" fill="#111" font-weight="normal" stroke="#111" stroke-width="0.15">chr12</text>
<rect x="63.30" y="363.80" width="258.67" height="4.6" rx="0.6" fill="#fff" stroke="#5e5e5e" stroke-width="1.0"/>
<rect x="63.14" y="363.35" width="3.97" height="5.5" fill="#00ee00"/>
<rect x="75.93" y="363.35" width="1.60" height="5.5" fill="#ff0000"/>
<rect x="81.03" y="363.35" width="1.00" height="5.5" fill="#ff0000"/>
<rect x="82.50" y="363.35" width="1.00" height="5.5" fill="#ff0000"/>
<rect x="132.26" y="363.35" width="1.00" height="5.5" fill="#00ee00"/>
<rect x="140.62" y="363.35" width="1.00" height="5.5" fill="#ff0000"/>
<rect x="164.04" y="363.35" width="1.00" height="5.5" fill="#ff0000"/>
<rect x="172.40" y="363.35" width="1.00" height="5.5" fill="#00ee00"/>
<rect x="174.92" y="363.35" width="1.00" height="5.5" fill="#00ee00"/>
<rect x="183.91" y="363.35" width="1.00" height="5.5" fill="#ff0000"/>
<rect x="190.81" y="363.35" width="1.00" height="5.5" fill="#9416d6"/>
<rect x="194.36" y="363.35" width="1.00" height="5.5" fill="#ff0000"/>
<rect x="210.46" y="363.35" width="1.00" height="5.5" fill="#ff0000"/>
<rect x="224.80" y="363.35" width="1.60" height="5.5" fill="#ff0000"/>
<rect x="225.72" y="363.35" width="1.00" height="5.5" fill="#00ee00"/>
<rect x="235.13" y="363.35" width="1.00" height="5.5" fill="#00ee00"/>
<rect x="239.31" y="363.35" width="1.00" height="5.5" fill="#00ee00"/>
<rect x="243.49" y="363.35" width="1.00" height="5.5" fill="#ff0000"/>
<rect x="246.63" y="363.35" width="1.00" height="5.5" fill="#00ee00"/>
<rect x="254.37" y="363.35" width="1.00" height="5.5" fill="#00ee00"/>
<rect x="259.17" y="363.35" width="1.00" height="5.5" fill="#00ee00"/>
<rect x="266.57" y="363.35" width="3.35" height="5.5" fill="#9416d6"/>
<rect x="270.55" y="363.35" width="1.46" height="5.5" fill="#9416d6"/>
<rect x="272.85" y="363.35" width="1.05" height="5.5" fill="#9416d6"/>
<rect x="275.77" y="363.35" width="5.02" height="5.5" fill="#9416d6"/>
<rect x="281.96" y="363.35" width="1.00" height="5.5" fill="#ff0000"/>
<rect x="292.01" y="363.35" width="1.00" height="5.5" fill="#ff0000"/>
<rect x="301.63" y="363.35" width="1.00" height="5.5" fill="#ff0000"/>
<rect x="315.01" y="363.35" width="1.00" height="5.5" fill="#00ee00"/>
<rect x="316.68" y="363.35" width="1.00" height="5.5" fill="#ff0000"/>
<rect x="318.35" y="363.35" width="1.00" height="5.5" fill="#ff0000"/>
<text transform="translate(330.47,369.00) scale(1,1.12)" font-family="'Liberation Sans', sans-serif" font-size="5.1" text-anchor="middle" fill="#333" font-weight="normal" stroke="#333" stroke-width="0.12">5.7%</text>
<text transform="translate(50.00,378.72) scale(1,1.1)" font-family="'Liberation Sans', sans-serif" font-size="8.45" text-anchor="end" fill="#111" font-weight="normal" stroke="#111" stroke-width="0.15">chr13</text>
<rect x="63.30" y="373.22" width="239.03" height="4.6" rx="0.6" fill="#fff" stroke="#5e5e5e" stroke-width="1.0"/>
<rect x="69.24" y="372.77" width="1.60" height="5.5" fill="#00ee00"/>
<rect x="85.63" y="372.77" width="1.00" height="5.5" fill="#ff0000"/>
<rect x="90.86" y="372.77" width="1.00" height="5.5" fill="#00ee00"/>
<rect x="92.32" y="372.77" width="1.00" height="5.5" fill="#00ee00"/>
<rect x="94.12" y="372.77" width="1.60" height="5.5" fill="#ff0000"/>
<rect x="97.88" y="372.77" width="1.60" height="5.5" fill="#ff0000"/>
<rect x="100.27" y="372.77" width="1.00" height="5.5" fill="#9416d6"/>
<rect x="104.03" y="372.77" width="1.00" height="5.5" fill="#ff0000"/>
<rect x="141.04" y="372.77" width="1.00" height="5.5" fill="#00ee00"/>
<rect x="146.89" y="372.77" width="1.00" height="5.5" fill="#00ee00"/>
<rect x="168.64" y="372.77" width="1.00" height="5.5" fill="#ff0000"/>
<rect x="187.04" y="372.77" width="1.00" height="5.5" fill="#ff0000"/>
<rect x="216.13" y="372.77" width="2.20" height="5.5" fill="#9416d6"/>
<rect x="278.62" y="372.77" width="1.00" height="5.5" fill="#00ee00"/>
<rect x="287.40" y="372.77" width="1.00" height="5.5" fill="#00ee00"/>
<text transform="translate(310.83,378.42) scale(1,1.12)" font-family="'Liberation Sans', sans-serif" font-size="5.1" text-anchor="middle" fill="#333" font-weight="normal" stroke="#333" stroke-width="0.12">2.4%</text>
<text transform="translate(50.00,388.13) scale(1,1.1)" font-family="'Liberation Sans', sans-serif" font-size="8.45" text-anchor="end" fill="#111" font-weight="normal" stroke="#111" stroke-width="0.15">chr14</text>
<rect x="63.30" y="382.63" width="240.19" height="4.6" rx="0.6" fill="#fff" stroke="#5e5e5e" stroke-width="1.0"/>
<rect x="67.32" y="382.18" width="2.09" height="5.5" fill="#9416d6"/>
<rect x="72.67" y="382.18" width="1.00" height="5.5" fill="#9416d6"/>
<rect x="75.81" y="382.18" width="1.00" height="5.5" fill="#ff0000"/>
<rect x="86.26" y="382.18" width="1.00" height="5.5" fill="#9416d6"/>
<rect x="89.82" y="382.18" width="1.00" height="5.5" fill="#00ee00"/>
<rect x="95.46" y="382.18" width="1.00" height="5.5" fill="#ff0000"/>
<rect x="97.13" y="382.18" width="1.00" height="5.5" fill="#9416d6"/>
<rect x="104.45" y="382.18" width="1.00" height="5.5" fill="#9416d6"/>
<rect x="132.68" y="382.18" width="1.00" height="5.5" fill="#ff0000"/>
<rect x="210.46" y="382.18" width="1.00" height="5.5" fill="#ff0000"/>
<rect x="222.17" y="382.18" width="1.00" height="5.5" fill="#00ee00"/>
<rect x="288.45" y="382.18" width="1.00" height="5.5" fill="#00ee00"/>
<rect x="294.10" y="382.18" width="1.00" height="5.5" fill="#ff0000"/>
<rect x="302.16" y="382.18" width="1.60" height="5.5" fill="#00ee00"/>
<text transform="translate(311.99,387.83) scale(1,1.12)" font-family="'Liberation Sans', sans-serif" font-size="5.1" text-anchor="middle" fill="#333" font-weight="normal" stroke="#333" stroke-width="0.12">1.8%</text>
<text transform="translate(50.00,397.55) scale(1,1.1)" font-family="'Liberation Sans', sans-serif" font-size="8.45" text-anchor="end" fill="#111" font-weight="normal" stroke="#111" stroke-width="0.15">chr15</text>
<rect x="63.30" y="392.05" width="242.04" height="4.6" rx="0.6" fill="#fff" stroke="#5e5e5e" stroke-width="1.0"/>
<rect x="63.14" y="391.60" width="3.76" height="5.5" fill="#9416d6"/>
<rect x="66.61" y="391.60" width="1.00" height="5.5" fill="#ff0000"/>
<rect x="72.04" y="391.60" width="1.00" height="5.5" fill="#00ee00"/>
<rect x="99.64" y="391.60" width="1.00" height="5.5" fill="#9416d6"/>
<rect x="110.72" y="391.60" width="1.00" height="5.5" fill="#00ee00"/>
<rect x="119.09" y="391.60" width="1.00" height="5.5" fill="#00ee00"/>
<rect x="120.55" y="391.60" width="1.00" height="5.5" fill="#00ee00"/>
<rect x="145.22" y="391.60" width="1.00" height="5.5" fill="#ff0000"/>
<rect x="150.87" y="391.60" width="1.00" height="5.5" fill="#ff0000"/>
<rect x="157.35" y="391.60" width="1.00" height="5.5" fill="#9416d6"/>
<rect x="165.71" y="391.60" width="1.00" height="5.5" fill="#ff0000"/>
<rect x="191.93" y="391.60" width="2.72" height="5.5" fill="#9416d6"/>
<rect x="195.07" y="391.60" width="2.09" height="5.5" fill="#ff0000"/>
<rect x="198.00" y="391.60" width="2.93" height="5.5" fill="#ff0000"/>
<rect x="202.93" y="391.60" width="1.00" height="5.5" fill="#9416d6"/>
<rect x="205.86" y="391.60" width="1.00" height="5.5" fill="#00ee00"/>
<rect x="211.72" y="391.60" width="1.00" height="5.5" fill="#00ee00"/>
<rect x="227.81" y="391.60" width="1.00" height="5.5" fill="#00ee00"/>
<rect x="236.80" y="391.60" width="1.00" height="5.5" fill="#9416d6"/>
<rect x="248.72" y="391.60" width="1.00" height="5.5" fill="#9416d6"/>
<rect x="256.46" y="391.60" width="1.00" height="5.5" fill="#00ee00"/>
<rect x="257.71" y="391.60" width="1.00" height="5.5" fill="#ff0000"/>
<rect x="259.80" y="391.60" width="1.00" height="5.5" fill="#ff0000"/>
<rect x="264.82" y="391.60" width="1.00" height="5.5" fill="#ff0000"/>
<rect x="280.08" y="391.60" width="1.00" height="5.5" fill="#00ee00"/>
<rect x="283.22" y="391.60" width="1.00" height="5.5" fill="#00ee00"/>
<rect x="287.40" y="391.60" width="1.00" height="5.5" fill="#00ee00"/>
<rect x="291.59" y="391.60" width="1.00" height="5.5" fill="#9416d6"/>
<rect x="294.10" y="391.60" width="1.00" height="5.5" fill="#ff0000"/>
<rect x="298.91" y="391.60" width="1.00" height="5.5" fill="#9416d6"/>
<rect x="302.46" y="391.60" width="1.00" height="5.5" fill="#00ee00"/>
<rect x="304.14" y="391.60" width="1.00" height="5.5" fill="#9416d6"/>
<text transform="translate(313.84,397.25) scale(1,1.12)" font-family="'Liberation Sans', sans-serif" font-size="5.1" text-anchor="middle" fill="#333" font-weight="normal" stroke="#333" stroke-width="0.12">4%</text>
<text transform="translate(50.00,406.97) scale(1,1.1)" font-family="'Liberation Sans', sans-serif" font-size="8.45" text-anchor="end" fill="#111" font-weight="normal" stroke="#111" stroke-width="0.15">chr16</text>
<rect x="63.30" y="401.47" width="231.88" height="4.6" rx="0.6" fill="#fff" stroke="#5e5e5e" stroke-width="1.0"/>
<rect x="63.05" y="401.02" width="1.00" height="5.5" fill="#ff0000"/>
<rect x="70.37" y="401.02" width="1.00" height="5.5" fill="#9416d6"/>
<rect x="79.06" y="401.02" width="1.60" height="5.5" fill="#ff0000"/>
<rect x="84.71" y="401.02" width="1.60" height="5.5" fill="#ff0000"/>
<rect x="105.91" y="401.02" width="1.00" height="5.5" fill="#00ee00"/>
<rect x="125.99" y="401.02" width="1.00" height="5.5" fill="#00ee00"/>
<rect x="206.91" y="401.02" width="1.00" height="5.5" fill="#8a7a10"/>
<rect x="212.55" y="401.02" width="1.00" height="5.5" fill="#9416d6"/>
<rect x="263.98" y="401.02" width="1.00" height="5.5" fill="#ff0000"/>
<rect x="275.90" y="401.02" width="1.00" height="5.5" fill="#00ee00"/>
<rect x="287.40" y="401.02" width="1.00" height="5.5" fill="#ff0000"/>
<rect x="293.52" y="401.02" width="1.60" height="5.5" fill="#9416d6"/>
<text transform="translate(303.68,406.67) scale(1,1.12)" font-family="'Liberation Sans', sans-serif" font-size="5.1" text-anchor="middle" fill="#333" font-weight="normal" stroke="#333" stroke-width="0.12">2.1%</text>
<text transform="translate(50.00,416.39) scale(1,1.1)" font-family="'Liberation Sans', sans-serif" font-size="8.45" text-anchor="end" fill="#111" font-weight="normal" stroke="#111" stroke-width="0.15">chr17</text>
<rect x="63.30" y="410.89" width="213.27" height="4.6" rx="0.6" fill="#fff" stroke="#5e5e5e" stroke-width="1.0"/>
<rect x="81.45" y="410.44" width="1.00" height="5.5" fill="#00ee00"/>
<rect x="88.77" y="410.44" width="1.00" height="5.5" fill="#ff0000"/>
<rect x="102.81" y="410.44" width="2.20" height="5.5" fill="#ff0000"/>
<rect x="121.18" y="410.44" width="1.00" height="5.5" fill="#ff0000"/>
<rect x="133.72" y="410.44" width="1.00" height="5.5" fill="#00ee00"/>
<rect x="142.08" y="410.44" width="1.00" height="5.5" fill="#00ee00"/>
<rect x="172.40" y="410.44" width="1.00" height="5.5" fill="#ff0000"/>
<rect x="187.46" y="410.44" width="1.00" height="5.5" fill="#ff0000"/>
<rect x="207.53" y="410.44" width="1.00" height="5.5" fill="#00ee00"/>
<rect x="208.37" y="410.44" width="1.00" height="5.5" fill="#9416d6"/>
<rect x="250.18" y="410.44" width="1.00" height="5.5" fill="#ff0000"/>
<rect x="253.95" y="410.44" width="1.00" height="5.5" fill="#ff0000"/>
<rect x="260.64" y="410.44" width="1.00" height="5.5" fill="#ff0000"/>
<rect x="263.98" y="410.44" width="1.00" height="5.5" fill="#ff0000"/>
<rect x="268.58" y="410.44" width="1.00" height="5.5" fill="#ff0000"/>
<rect x="269.63" y="410.44" width="1.00" height="5.5" fill="#9416d6"/>
<rect x="270.67" y="410.44" width="1.00" height="5.5" fill="#ff0000"/>
<rect x="272.35" y="410.44" width="1.00" height="5.5" fill="#9416d6"/>
<rect x="273.81" y="410.44" width="1.00" height="5.5" fill="#ff0000"/>
<rect x="275.27" y="410.44" width="1.00" height="5.5" fill="#9416d6"/>
<text transform="translate(285.07,416.09) scale(1,1.12)" font-family="'Liberation Sans', sans-serif" font-size="5.1" text-anchor="middle" fill="#333" font-weight="normal" stroke="#333" stroke-width="0.12">3.7%</text>
<text transform="translate(50.00,425.81) scale(1,1.1)" font-family="'Liberation Sans', sans-serif" font-size="8.45" text-anchor="end" fill="#111" font-weight="normal" stroke="#111" stroke-width="0.15">chr18</text>
<rect x="63.30" y="420.31" width="187.27" height="4.6" rx="0.6" fill="#fff" stroke="#5e5e5e" stroke-width="1.0"/>
<rect x="62.75" y="419.86" width="1.60" height="5.5" fill="#ff0000"/>
<rect x="71.00" y="419.86" width="1.00" height="5.5" fill="#9416d6"/>
<rect x="72.16" y="419.86" width="1.60" height="5.5" fill="#ff0000"/>
<rect x="80.41" y="419.86" width="1.00" height="5.5" fill="#ff0000"/>
<rect x="101.31" y="419.86" width="1.00" height="5.5" fill="#ff0000"/>
<rect x="101.94" y="419.86" width="1.00" height="5.5" fill="#9416d6"/>
<rect x="103.82" y="419.86" width="1.00" height="5.5" fill="#00ee00"/>
<rect x="117.00" y="419.86" width="1.00" height="5.5" fill="#9416d6"/>
<rect x="152.24" y="419.86" width="1.60" height="5.5" fill="#ff0000"/>
<rect x="177.64" y="419.86" width="1.00" height="5.5" fill="#ff0000"/>
<rect x="187.46" y="419.86" width="1.00" height="5.5" fill="#ff0000"/>
<rect x="226.77" y="419.86" width="1.00" height="5.5" fill="#ff0000"/>
<rect x="228.44" y="419.86" width="1.00" height="5.5" fill="#ff0000"/>
<rect x="229.90" y="419.86" width="1.00" height="5.5" fill="#ff0000"/>
<rect x="232.62" y="419.86" width="1.00" height="5.5" fill="#00ee00"/>
<rect x="236.50" y="419.86" width="1.60" height="5.5" fill="#ff0000"/>
<rect x="239.31" y="419.86" width="1.00" height="5.5" fill="#ff0000"/>
<rect x="242.15" y="419.86" width="1.60" height="5.5" fill="#ff0000"/>
<rect x="245.59" y="419.86" width="1.00" height="5.5" fill="#9416d6"/>
<rect x="247.68" y="419.86" width="1.00" height="5.5" fill="#ff0000"/>
<rect x="248.72" y="419.86" width="1.00" height="5.5" fill="#9416d6"/>
<text transform="translate(259.07,425.51) scale(1,1.12)" font-family="'Liberation Sans', sans-serif" font-size="5.1" text-anchor="middle" fill="#333" font-weight="normal" stroke="#333" stroke-width="0.12">3%</text>
<text transform="translate(50.00,435.22) scale(1,1.1)" font-family="'Liberation Sans', sans-serif" font-size="8.45" text-anchor="end" fill="#111" font-weight="normal" stroke="#111" stroke-width="0.15">chr19</text>
<rect x="63.30" y="429.72" width="181.77" height="4.6" rx="0.6" fill="#fff" stroke="#5e5e5e" stroke-width="1.0"/>
<rect x="62.75" y="429.27" width="1.60" height="5.5" fill="#00ee00"/>
<rect x="76.23" y="429.27" width="1.00" height="5.5" fill="#ff0000"/>
<rect x="77.90" y="429.27" width="1.00" height="5.5" fill="#00ee00"/>
<rect x="84.17" y="429.27" width="1.00" height="5.5" fill="#ff0000"/>
<rect x="86.26" y="429.27" width="1.00" height="5.5" fill="#ff0000"/>
<rect x="93.58" y="429.27" width="1.00" height="5.5" fill="#ff0000"/>
<rect x="95.46" y="429.27" width="1.00" height="5.5" fill="#ff0000"/>
<rect x="99.22" y="429.27" width="1.00" height="5.5" fill="#9416d6"/>
<rect x="100.27" y="429.27" width="1.00" height="5.5" fill="#ff0000"/>
<rect x="105.08" y="429.27" width="1.00" height="5.5" fill="#ff0000"/>
<rect x="107.17" y="429.27" width="1.00" height="5.5" fill="#ff0000"/>
<rect x="109.68" y="429.27" width="1.00" height="5.5" fill="#00ee00"/>
<rect x="110.72" y="429.27" width="1.00" height="5.5" fill="#ff0000"/>
<rect x="111.77" y="429.27" width="1.00" height="5.5" fill="#ff0000"/>
<rect x="119.09" y="429.27" width="1.00" height="5.5" fill="#9416d6"/>
<rect x="134.35" y="429.27" width="1.00" height="5.5" fill="#ff0000"/>
<rect x="177.64" y="429.27" width="1.00" height="5.5" fill="#00ee00"/>
<rect x="182.24" y="429.27" width="1.00" height="5.5" fill="#ff0000"/>
<rect x="183.91" y="429.27" width="1.00" height="5.5" fill="#ff0000"/>
<rect x="195.41" y="429.27" width="1.00" height="5.5" fill="#ff0000"/>
<rect x="209.00" y="429.27" width="1.00" height="5.5" fill="#9416d6"/>
<rect x="212.13" y="429.27" width="1.00" height="5.5" fill="#ff0000"/>
<rect x="213.18" y="429.27" width="1.00" height="5.5" fill="#9416d6"/>
<rect x="218.41" y="429.27" width="1.00" height="5.5" fill="#ff0000"/>
<rect x="222.17" y="429.27" width="1.00" height="5.5" fill="#9416d6"/>
<rect x="223.01" y="429.27" width="1.00" height="5.5" fill="#9416d6"/>
<rect x="224.68" y="429.27" width="1.00" height="5.5" fill="#9416d6"/>
<rect x="226.35" y="429.27" width="1.00" height="5.5" fill="#ff0000"/>
<rect x="228.44" y="429.27" width="1.00" height="5.5" fill="#ff0000"/>
<rect x="243.91" y="429.27" width="1.00" height="5.5" fill="#ff0000"/>
<text transform="translate(253.57,434.92) scale(1,1.12)" font-family="'Liberation Sans', sans-serif" font-size="5.1" text-anchor="middle" fill="#333" font-weight="normal" stroke="#333" stroke-width="0.12">4.3%</text>
<text transform="translate(50.00,444.64) scale(1,1.1)" font-family="'Liberation Sans', sans-serif" font-size="8.45" text-anchor="end" fill="#111" font-weight="normal" stroke="#111" stroke-width="0.15">chr20</text>
<rect x="63.30" y="439.14" width="204.41" height="4.6" rx="0.6" fill="#fff" stroke="#5e5e5e" stroke-width="1.0"/>
<rect x="67.86" y="438.69" width="1.00" height="5.5" fill="#00ee00"/>
<rect x="77.27" y="438.69" width="1.00" height="5.5" fill="#00ee00"/>
<rect x="79.99" y="438.69" width="1.00" height="5.5" fill="#ff0000"/>
<rect x="138.53" y="438.69" width="1.00" height="5.5" fill="#ff0000"/>
<rect x="151.07" y="438.69" width="1.00" height="5.5" fill="#00ee00"/>
<rect x="193.73" y="438.69" width="1.00" height="5.5" fill="#ff0000"/>
<rect x="202.72" y="438.69" width="1.00" height="5.5" fill="#9416d6"/>
<rect x="207.53" y="438.69" width="1.00" height="5.5" fill="#ff0000"/>
<rect x="208.37" y="438.69" width="1.00" height="5.5" fill="#00ee00"/>
<rect x="215.27" y="438.69" width="1.00" height="5.5" fill="#ff0000"/>
<rect x="229.90" y="438.69" width="1.00" height="5.5" fill="#ff0000"/>
<rect x="234.71" y="438.69" width="1.00" height="5.5" fill="#00ee00"/>
<rect x="244.54" y="438.69" width="1.00" height="5.5" fill="#ff0000"/>
<rect x="260.22" y="438.69" width="1.00" height="5.5" fill="#ff0000"/>
<rect x="263.98" y="438.69" width="1.00" height="5.5" fill="#ff0000"/>
<rect x="265.45" y="438.69" width="1.00" height="5.5" fill="#00ee00"/>
<rect x="266.49" y="438.69" width="1.00" height="5.5" fill="#ff0000"/>
<text transform="translate(276.21,444.34) scale(1,1.12)" font-family="'Liberation Sans', sans-serif" font-size="5.1" text-anchor="middle" fill="#333" font-weight="normal" stroke="#333" stroke-width="0.12">2%</text>
<text transform="translate(50.00,454.06) scale(1,1.1)" font-family="'Liberation Sans', sans-serif" font-size="8.45" text-anchor="end" fill="#111" font-weight="normal" stroke="#111" stroke-width="0.15">chr21</text>
<rect x="63.30" y="448.56" width="203.16" height="4.6" rx="0.6" fill="#fff" stroke="#5e5e5e" stroke-width="1.0"/>
<rect x="67.86" y="448.11" width="1.00" height="5.5" fill="#ff0000"/>
<rect x="95.04" y="448.11" width="1.00" height="5.5" fill="#ff0000"/>
<rect x="120.55" y="448.11" width="1.00" height="5.5" fill="#ff0000"/>
<rect x="123.27" y="448.11" width="1.00" height="5.5" fill="#00ee00"/>
<rect x="133.09" y="448.11" width="1.00" height="5.5" fill="#ff0000"/>
<rect x="137.28" y="448.11" width="1.00" height="5.5" fill="#ff0000"/>
<rect x="144.17" y="448.11" width="1.00" height="5.5" fill="#ff0000"/>
<rect x="162.36" y="448.11" width="1.00" height="5.5" fill="#00ee00"/>
<rect x="168.22" y="448.11" width="1.00" height="5.5" fill="#ff0000"/>
<rect x="175.55" y="448.11" width="1.00" height="5.5" fill="#ff0000"/>
<rect x="181.82" y="448.11" width="1.00" height="5.5" fill="#ff0000"/>
<rect x="196.45" y="448.11" width="1.00" height="5.5" fill="#00ee00"/>
<rect x="213.18" y="448.11" width="1.00" height="5.5" fill="#ff0000"/>
<rect x="215.27" y="448.11" width="1.00" height="5.5" fill="#ff0000"/>
<rect x="250.81" y="448.11" width="1.00" height="5.5" fill="#ff0000"/>
<rect x="260.64" y="448.11" width="1.00" height="5.5" fill="#ff0000"/>
<rect x="261.89" y="448.11" width="1.00" height="5.5" fill="#ff0000"/>
<rect x="263.36" y="448.11" width="1.00" height="5.5" fill="#9416d6"/>
<rect x="264.82" y="448.11" width="1.00" height="5.5" fill="#9416d6"/>
<rect x="266.07" y="448.11" width="1.00" height="5.5" fill="#ff0000"/>
<text transform="translate(274.96,453.76) scale(1,1.12)" font-family="'Liberation Sans', sans-serif" font-size="5.1" text-anchor="middle" fill="#333" font-weight="normal" stroke="#333" stroke-width="0.12">2.7%</text>
<text transform="translate(50.00,463.48) scale(1,1.1)" font-family="'Liberation Sans', sans-serif" font-size="8.45" text-anchor="end" fill="#111" font-weight="normal" stroke="#111" stroke-width="0.15">chr22</text>
<rect x="63.30" y="457.98" width="174.34" height="4.6" rx="0.6" fill="#fff" stroke="#5e5e5e" stroke-width="1.0"/>
<rect x="62.75" y="457.53" width="1.60" height="5.5" fill="#ff0000"/>
<rect x="68.91" y="457.53" width="1.00" height="5.5" fill="#ff0000"/>
<rect x="90.86" y="457.53" width="1.00" height="5.5" fill="#ff0000"/>
<rect x="94.00" y="457.53" width="1.00" height="5.5" fill="#ff0000"/>
<rect x="110.10" y="457.53" width="1.00" height="5.5" fill="#ff0000"/>
<rect x="115.40" y="457.53" width="1.46" height="5.5" fill="#ff0000"/>
<rect x="137.90" y="457.53" width="1.00" height="5.5" fill="#00ee00"/>
<rect x="139.99" y="457.53" width="1.00" height="5.5" fill="#ff0000"/>
<rect x="146.27" y="457.53" width="1.00" height="5.5" fill="#ff0000"/>
<rect x="157.35" y="457.53" width="1.00" height="5.5" fill="#ff0000"/>
<rect x="164.04" y="457.53" width="1.00" height="5.5" fill="#00ee00"/>
<rect x="190.81" y="457.53" width="1.00" height="5.5" fill="#ff0000"/>
<rect x="206.28" y="457.53" width="1.00" height="5.5" fill="#ff0000"/>
<rect x="212.55" y="457.53" width="1.00" height="5.5" fill="#00ee00"/>
<rect x="219.45" y="457.53" width="1.00" height="5.5" fill="#00ee00"/>
<rect x="225.10" y="457.53" width="1.00" height="5.5" fill="#ff0000"/>
<rect x="229.90" y="457.53" width="1.00" height="5.5" fill="#ff0000"/>
<rect x="230.95" y="457.53" width="1.00" height="5.5" fill="#ff0000"/>
<rect x="235.13" y="457.53" width="1.00" height="5.5" fill="#00ee00"/>
<rect x="236.18" y="457.53" width="1.00" height="5.5" fill="#00ee00"/>
<text transform="translate(246.14,463.18) scale(1,1.12)" font-family="'Liberation Sans', sans-serif" font-size="5.1" text-anchor="middle" fill="#333" font-weight="normal" stroke="#333" stroke-width="0.12">3.4%</text>
<text transform="translate(50.00,472.90) scale(1,1.1)" font-family="'Liberation Sans', sans-serif" font-size="8.45" text-anchor="end" fill="#111" font-weight="normal" stroke="#111" stroke-width="0.15">chr23</text>
<rect x="63.30" y="467.40" width="149.05" height="4.6" rx="0.6" fill="#fff" stroke="#5e5e5e" stroke-width="1.0"/>
<rect x="78.73" y="466.95" width="1.00" height="5.5" fill="#ff0000"/>
<rect x="98.18" y="466.95" width="1.00" height="5.5" fill="#ff0000"/>
<rect x="99.64" y="466.95" width="1.00" height="5.5" fill="#ff0000"/>
<rect x="123.27" y="466.95" width="1.00" height="5.5" fill="#00ee00"/>
<rect x="135.27" y="466.95" width="2.09" height="5.5" fill="#9416d6"/>
<rect x="137.90" y="466.95" width="1.00" height="5.5" fill="#ff0000"/>
<rect x="139.69" y="466.95" width="1.60" height="5.5" fill="#ff0000"/>
<rect x="141.04" y="466.95" width="1.00" height="5.5" fill="#00ee00"/>
<rect x="142.71" y="466.95" width="1.00" height="5.5" fill="#ff0000"/>
<rect x="144.17" y="466.95" width="1.00" height="5.5" fill="#00ee00"/>
<rect x="145.22" y="466.95" width="1.00" height="5.5" fill="#00ee00"/>
<rect x="151.91" y="466.95" width="1.00" height="5.5" fill="#ff0000"/>
<rect x="161.95" y="466.95" width="1.00" height="5.5" fill="#9416d6"/>
<rect x="162.99" y="466.95" width="1.00" height="5.5" fill="#00ee00"/>
<rect x="186.00" y="466.95" width="1.00" height="5.5" fill="#ff0000"/>
<rect x="188.09" y="466.95" width="1.00" height="5.5" fill="#9416d6"/>
<rect x="196.45" y="466.95" width="1.00" height="5.5" fill="#ff0000"/>
<rect x="199.17" y="466.95" width="1.00" height="5.5" fill="#00ee00"/>
<rect x="202.72" y="466.95" width="1.00" height="5.5" fill="#00ee00"/>
<rect x="205.86" y="466.95" width="1.00" height="5.5" fill="#ff0000"/>
<rect x="206.91" y="466.95" width="1.00" height="5.5" fill="#9416d6"/>
<rect x="208.37" y="466.95" width="1.00" height="5.5" fill="#ff0000"/>
<rect x="211.72" y="466.95" width="1.00" height="5.5" fill="#00ee00"/>
<text transform="translate(220.85,472.60) scale(1,1.12)" font-family="'Liberation Sans', sans-serif" font-size="5.1" text-anchor="middle" fill="#333" font-weight="normal" stroke="#333" stroke-width="0.12">3.9%</text>
<text transform="translate(50.00,482.31) scale(1,1.1)" font-family="'Liberation Sans', sans-serif" font-size="8.45" text-anchor="end" fill="#111" font-weight="normal" stroke="#111" stroke-width="0.15">chr24</text>
<rect x="63.30" y="476.81" width="177.94" height="4.6" rx="0.6" fill="#fff" stroke="#5e5e5e" stroke-width="1.0"/>
<rect x="64.73" y="476.36" width="1.00" height="5.5" fill="#9416d6"/>
<rect x="67.86" y="476.36" width="1.00" height="5.5" fill="#00ee00"/>
<rect x="77.90" y="476.36" width="1.00" height="5.5" fill="#00ee00"/>
<rect x="101.73" y="476.36" width="1.00" height="5.5" fill="#00ee00"/>
<rect x="111.77" y="476.36" width="1.00" height="5.5" fill="#ff0000"/>
<rect x="119.09" y="476.36" width="1.00" height="5.5" fill="#00ee00"/>
<rect x="130.17" y="476.36" width="1.00" height="5.5" fill="#00ee00"/>
<rect x="132.26" y="476.36" width="1.00" height="5.5" fill="#00ee00"/>
<rect x="150.45" y="476.36" width="1.00" height="5.5" fill="#9416d6"/>
<rect x="164.04" y="476.36" width="1.00" height="5.5" fill="#00ee00"/>
<rect x="180.77" y="476.36" width="1.00" height="5.5" fill="#00ee00"/>
<rect x="181.82" y="476.36" width="1.00" height="5.5" fill="#9416d6"/>
<rect x="183.91" y="476.36" width="1.00" height="5.5" fill="#ff0000"/>
<rect x="222.17" y="476.36" width="1.00" height="5.5" fill="#ff0000"/>
<rect x="232.00" y="476.36" width="1.00" height="5.5" fill="#ff0000"/>
<rect x="240.06" y="476.36" width="1.60" height="5.5" fill="#9416d6"/>
<text transform="translate(249.74,482.01) scale(1,1.12)" font-family="'Liberation Sans', sans-serif" font-size="5.1" text-anchor="middle" fill="#333" font-weight="normal" stroke="#333" stroke-width="0.12">1.5%</text>
<text transform="translate(50.00,491.73) scale(1,1.1)" font-family="'Liberation Sans', sans-serif" font-size="8.45" text-anchor="end" fill="#111" font-weight="normal" stroke="#111" stroke-width="0.15">chr25</text>
<rect x="63.30" y="486.23" width="121.73" height="4.6" rx="0.6" fill="#fff" stroke="#5e5e5e" stroke-width="1.0"/>
<rect x="63.14" y="485.78" width="6.27" height="5.5" fill="#9416d6"/>
<rect x="69.54" y="485.78" width="1.00" height="5.5" fill="#ff0000"/>
<rect x="70.37" y="485.78" width="1.00" height="5.5" fill="#ff0000"/>
<rect x="72.46" y="485.78" width="1.00" height="5.5" fill="#9416d6"/>
<rect x="88.89" y="485.78" width="1.60" height="5.5" fill="#ff0000"/>
<rect x="133.09" y="485.78" width="1.00" height="5.5" fill="#ff0000"/>
<rect x="136.65" y="485.78" width="1.00" height="5.5" fill="#9416d6"/>
<rect x="138.32" y="485.78" width="1.00" height="5.5" fill="#ff0000"/>
<rect x="162.06" y="485.78" width="1.60" height="5.5" fill="#ff0000"/>
<rect x="169.89" y="485.78" width="1.00" height="5.5" fill="#ff0000"/>
<rect x="175.55" y="485.78" width="1.00" height="5.5" fill="#ff0000"/>
<rect x="178.68" y="485.78" width="1.00" height="5.5" fill="#ff0000"/>
<rect x="180.35" y="485.78" width="1.00" height="5.5" fill="#ff0000"/>
<rect x="181.82" y="485.78" width="1.00" height="5.5" fill="#9416d6"/>
<rect x="183.28" y="485.78" width="1.00" height="5.5" fill="#9416d6"/>
<text transform="translate(193.53,491.43) scale(1,1.12)" font-family="'Liberation Sans', sans-serif" font-size="5.1" text-anchor="middle" fill="#333" font-weight="normal" stroke="#333" stroke-width="0.12">4.7%</text>
<text transform="translate(50.00,501.15) scale(1,1.1)" font-family="'Liberation Sans', sans-serif" font-size="8.45" text-anchor="end" fill="#111" font-weight="normal" stroke="#111" stroke-width="0.15">chr26</text>
<rect x="63.30" y="495.65" width="146.64" height="4.6" rx="0.6" fill="#fff" stroke="#5e5e5e" stroke-width="1.0"/>
<rect x="70.87" y="495.20" width="3.97" height="5.5" fill="#ff0000"/>
<rect x="95.46" y="495.20" width="1.00" height="5.5" fill="#00ee00"/>
<rect x="108.01" y="495.20" width="1.00" height="5.5" fill="#00ee00"/>
<rect x="112.81" y="495.20" width="1.00" height="5.5" fill="#00ee00"/>
<rect x="128.91" y="495.20" width="1.00" height="5.5" fill="#00ee00"/>
<rect x="133.72" y="495.20" width="1.00" height="5.5" fill="#ff0000"/>
<rect x="144.80" y="495.20" width="1.00" height="5.5" fill="#8a7a10"/>
<rect x="156.09" y="495.20" width="1.00" height="5.5" fill="#00ee00"/>
<rect x="161.95" y="495.20" width="1.00" height="5.5" fill="#00ee00"/>
<rect x="186.63" y="495.20" width="1.00" height="5.5" fill="#ff0000"/>
<rect x="188.09" y="495.20" width="1.00" height="5.5" fill="#ff0000"/>
<rect x="200.63" y="495.20" width="1.00" height="5.5" fill="#ff0000"/>
<rect x="205.44" y="495.20" width="1.00" height="5.5" fill="#00ee00"/>
<rect x="206.70" y="495.20" width="1.00" height="5.5" fill="#ff0000"/>
<rect x="207.41" y="495.20" width="2.51" height="5.5" fill="#9416d6"/>
<text transform="translate(218.44,500.85) scale(1,1.12)" font-family="'Liberation Sans', sans-serif" font-size="5.1" text-anchor="middle" fill="#333" font-weight="normal" stroke="#333" stroke-width="0.12">2.7%</text>
<text transform="translate(50.00,510.57) scale(1,1.1)" font-family="'Liberation Sans', sans-serif" font-size="8.45" text-anchor="end" fill="#111" font-weight="normal" stroke="#111" stroke-width="0.15">chr27</text>
<rect x="63.30" y="505.07" width="128.85" height="4.6" rx="0.6" fill="#fff" stroke="#5e5e5e" stroke-width="1.0"/>
<rect x="63.26" y="504.62" width="1.00" height="5.5" fill="#9416d6"/>
<rect x="64.10" y="504.62" width="1.00" height="5.5" fill="#00ee00"/>
<rect x="64.94" y="504.62" width="1.00" height="5.5" fill="#8a7a10"/>
<rect x="71.00" y="504.62" width="1.00" height="5.5" fill="#ff0000"/>
<rect x="79.69" y="504.62" width="1.60" height="5.5" fill="#ff0000"/>
<rect x="84.59" y="504.62" width="1.00" height="5.5" fill="#ff0000"/>
<rect x="108.63" y="504.62" width="1.00" height="5.5" fill="#00ee00"/>
<rect x="114.90" y="504.62" width="1.00" height="5.5" fill="#ff0000"/>
<rect x="123.27" y="504.62" width="1.00" height="5.5" fill="#ff0000"/>
<rect x="128.08" y="504.62" width="1.00" height="5.5" fill="#ff0000"/>
<rect x="130.59" y="504.62" width="1.00" height="5.5" fill="#00ee00"/>
<rect x="135.81" y="504.62" width="1.00" height="5.5" fill="#ff0000"/>
<rect x="138.95" y="504.62" width="1.00" height="5.5" fill="#ff0000"/>
<rect x="156.72" y="504.62" width="1.00" height="5.5" fill="#00ee00"/>
<rect x="172.40" y="504.62" width="1.00" height="5.5" fill="#ff0000"/>
<rect x="175.55" y="504.62" width="1.00" height="5.5" fill="#ff0000"/>
<rect x="189.14" y="504.62" width="1.00" height="5.5" fill="#ff0000"/>
<rect x="190.18" y="504.62" width="1.00" height="5.5" fill="#00ee00"/>
<rect x="190.81" y="504.62" width="1.00" height="5.5" fill="#00ee00"/>
<text transform="translate(200.65,510.27) scale(1,1.12)" font-family="'Liberation Sans', sans-serif" font-size="5.1" text-anchor="middle" fill="#333" font-weight="normal" stroke="#333" stroke-width="0.12">4.2%</text>
<text transform="translate(50.00,519.99) scale(1,1.1)" font-family="'Liberation Sans', sans-serif" font-size="8.45" text-anchor="end" fill="#111" font-weight="normal" stroke="#111" stroke-width="0.15">chr28</text>
<rect x="63.30" y="514.49" width="131.40" height="4.6" rx="0.6" fill="#fff" stroke="#5e5e5e" stroke-width="1.0"/>
<rect x="63.47" y="514.04" width="1.00" height="5.5" fill="#9416d6"/>
<rect x="64.84" y="514.04" width="1.60" height="5.5" fill="#00ee00"/>
<rect x="68.91" y="514.04" width="1.00" height="5.5" fill="#00ee00"/>
<rect x="70.49" y="514.04" width="1.60" height="5.5" fill="#9416d6"/>
<rect x="82.50" y="514.04" width="1.00" height="5.5" fill="#ff0000"/>
<rect x="97.01" y="514.04" width="2.72" height="5.5" fill="#ff0000"/>
<rect x="111.77" y="514.04" width="1.00" height="5.5" fill="#00ee00"/>
<rect x="121.18" y="514.04" width="1.00" height="5.5" fill="#00ee00"/>
<rect x="123.27" y="514.04" width="1.00" height="5.5" fill="#9416d6"/>
<rect x="132.26" y="514.04" width="1.00" height="5.5" fill="#ff0000"/>
<rect x="154.00" y="514.04" width="1.00" height="5.5" fill="#ff0000"/>
<rect x="156.09" y="514.04" width="1.00" height="5.5" fill="#ff0000"/>
<rect x="159.86" y="514.04" width="1.00" height="5.5" fill="#9416d6"/>
<text transform="translate(203.20,519.69) scale(1,1.12)" font-family="'Liberation Sans', sans-serif" font-size="5.1" text-anchor="middle" fill="#333" font-weight="normal" stroke="#333" stroke-width="0.12">3%</text>
<text transform="translate(50.00,529.40) scale(1,1.1)" font-family="'Liberation Sans', sans-serif" font-size="8.45" text-anchor="end" fill="#111" font-weight="normal" stroke="#111" stroke-width="0.15">chr29</text>
<rect x="63.30" y="523.90" width="146.16" height="4.6" rx="0.6" fill="#fff" stroke="#5e5e5e" stroke-width="1.0"/>
<rect x="67.86" y="523.45" width="1.00" height="5.5" fill="#ff0000"/>
<rect x="77.39" y="523.45" width="1.60" height="5.5" fill="#ff0000"/>
<rect x="79.36" y="523.45" width="1.00" height="5.5" fill="#9416d6"/>
<rect x="83.87" y="523.45" width="1.60" height="5.5" fill="#9416d6"/>
<rect x="87.31" y="523.45" width="1.00" height="5.5" fill="#ff0000"/>
<rect x="118.46" y="523.45" width="1.00" height="5.5" fill="#ff0000"/>
<rect x="125.36" y="523.45" width="1.00" height="5.5" fill="#00ee00"/>
<rect x="127.45" y="523.45" width="1.00" height="5.5" fill="#00ee00"/>
<rect x="162.99" y="523.45" width="1.00" height="5.5" fill="#ff0000"/>
<rect x="165.95" y="523.45" width="2.20" height="5.5" fill="#ff0000"/>
<rect x="168.22" y="523.45" width="1.00" height="5.5" fill="#ff0000"/>
<rect x="175.55" y="523.45" width="1.00" height="5.5" fill="#00ee00"/>
<rect x="177.22" y="523.45" width="1.00" height="5.5" fill="#ff0000"/>
<rect x="186.50" y="523.45" width="4.60" height="5.5" fill="#9416d6"/>
<rect x="190.81" y="523.45" width="1.00" height="5.5" fill="#ff0000"/>
<rect x="192.90" y="523.45" width="1.00" height="5.5" fill="#9416d6"/>
<rect x="194.78" y="523.45" width="1.00" height="5.5" fill="#9416d6"/>
<rect x="200.09" y="523.45" width="2.72" height="5.5" fill="#ff0000"/>
<rect x="205.65" y="523.45" width="1.00" height="5.5" fill="#9416d6"/>
<rect x="207.74" y="523.45" width="1.00" height="5.5" fill="#9416d6"/>
<text transform="translate(217.96,529.10) scale(1,1.12)" font-family="'Liberation Sans', sans-serif" font-size="5.1" text-anchor="middle" fill="#333" font-weight="normal" stroke="#333" stroke-width="0.12">5.4%</text>
<line x1="63.3" y1="539.4" x2="517.30" y2="539.4" stroke="#444" stroke-width="1"/>
<line x1="63.30" y1="539.4" x2="63.30" y2="545.8" stroke="#444" stroke-width="1"/>
<text transform="translate(63.30,562.60) scale(1,1.08)" font-family="'Liberation Sans', sans-serif" font-size="10.2" text-anchor="middle" fill="#1a1a1a" font-weight="normal" stroke="#1a1a1a" stroke-width="0.2">0</text>
<line x1="120.05" y1="539.4" x2="120.05" y2="545.8" stroke="#444" stroke-width="1"/>
<text transform="translate(120.05,562.60) scale(1,1.08)" font-family="'Liberation Sans', sans-serif" font-size="10.2" text-anchor="middle" fill="#1a1a1a" font-weight="normal" stroke="#1a1a1a" stroke-width="0.2">20</text>
<line x1="176.80" y1="539.4" x2="176.80" y2="545.8" stroke="#444" stroke-width="1"/>
<text transform="translate(176.80,562.60) scale(1,1.08)" font-family="'Liberation Sans', sans-serif" font-size="10.2" text-anchor="middle" fill="#1a1a1a" font-weight="normal" stroke="#1a1a1a" stroke-width="0.2">40</text>
<line x1="233.55" y1="539.4" x2="233.55" y2="545.8" stroke="#444" stroke-width="1"/>
<text transform="translate(233.55,562.60) scale(1,1.08)" font-family="'Liberation Sans', sans-serif" font-size="10.2" text-anchor="middle" fill="#1a1a1a" font-weight="normal" stroke="#1a1a1a" stroke-width="0.2">60</text>
<line x1="290.30" y1="539.4" x2="290.30" y2="545.8" stroke="#444" stroke-width="1"/>
<text transform="translate(290.30,562.60) scale(1,1.08)" font-family="'Liberation Sans', sans-serif" font-size="10.2" text-anchor="middle" fill="#1a1a1a" font-weight="normal" stroke="#1a1a1a" stroke-width="0.2">80</text>
<line x1="347.05" y1="539.4" x2="347.05" y2="545.8" stroke="#444" stroke-width="1"/>
<text transform="translate(347.05,562.60) scale(1,1.08)" font-family="'Liberation Sans', sans-serif" font-size="10.2" text-anchor="middle" fill="#1a1a1a" font-weight="normal" stroke="#1a1a1a" stroke-width="0.2">100</text>
<line x1="403.80" y1="539.4" x2="403.80" y2="545.8" stroke="#444" stroke-width="1"/>
<text transform="translate(403.80,562.60) scale(1,1.08)" font-family="'Liberation Sans', sans-serif" font-size="10.2" text-anchor="middle" fill="#1a1a1a" font-weight="normal" stroke="#1a1a1a" stroke-width="0.2">120</text>
<line x1="460.55" y1="539.4" x2="460.55" y2="545.8" stroke="#444" stroke-width="1"/>
<text transform="translate(460.55,562.60) scale(1,1.08)" font-family="'Liberation Sans', sans-serif" font-size="10.2" text-anchor="middle" fill="#1a1a1a" font-weight="normal" stroke="#1a1a1a" stroke-width="0.2">140</text>
<line x1="517.30" y1="539.4" x2="517.30" y2="545.8" stroke="#444" stroke-width="1"/>
<text transform="translate(517.30,562.60) scale(1,1.08)" font-family="'Liberation Sans', sans-serif" font-size="10.2" text-anchor="middle" fill="#1a1a1a" font-weight="normal" stroke="#1a1a1a" stroke-width="0.2">160</text>
<text transform="translate(296.20,587.50) scale(1,1.07)" font-family="'Liberation Sans', sans-serif" font-size="10.5" text-anchor="middle" fill="#1a1a1a" font-weight="normal" stroke="#1a1a1a" stroke-width="0.2">Physical Position (Mbp)</text>
<rect x="429.4" y="447.30" width="4.1" height="3.7" fill="#ff0000"/>
<text transform="translate(439.10,452.70) scale(1,1.08)" font-family="'Liberation Sans', sans-serif" font-size="8.4" text-anchor="start" fill="#1a1a1a" font-weight="normal" stroke="#1a1a1a" stroke-width="0.15">Gain</text>
<rect x="429.4" y="457.50" width="4.1" height="3.7" fill="#00ee00"/>
<text transform="translate(439.10,462.90) scale(1,1.08)" font-family="'Liberation Sans', sans-serif" font-size="8.4" text-anchor="start" fill="#1a1a1a" font-weight="normal" stroke="#1a1a1a" stroke-width="0.15">Loss</text>
<rect x="429.4" y="467.70" width="4.1" height="3.7" fill="#8a10d0"/>
<text transform="translate(439.10,473.10) scale(1,1.08)" font-family="'Liberation Sans', sans-serif" font-size="8.4" text-anchor="start" fill="#1a1a1a" font-weight="normal" stroke="#1a1a1a" stroke-width="0.15">Mixed</text>
</g>
</svg></body></html>
